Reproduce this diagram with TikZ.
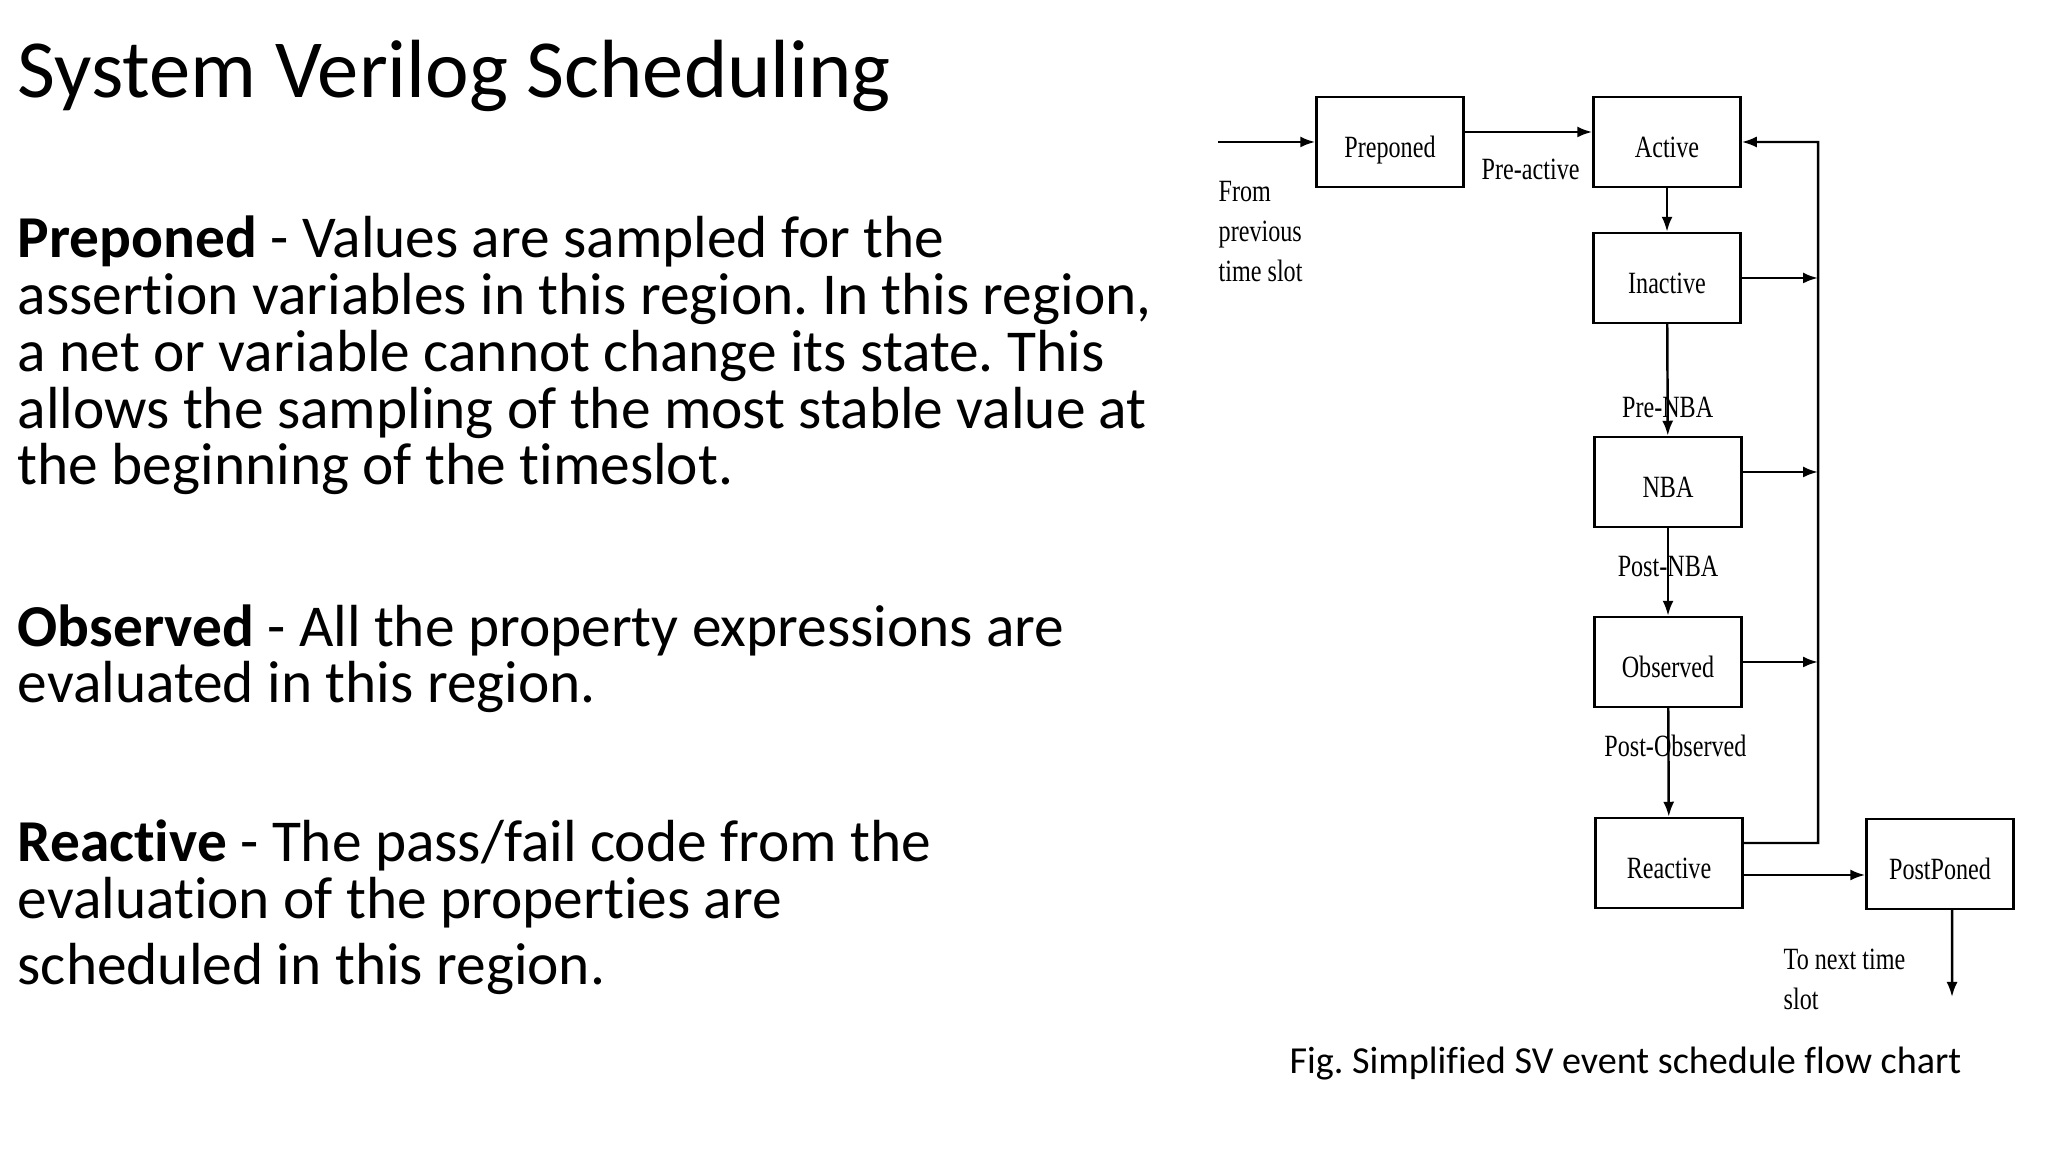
\documentclass[tikz,border=0pt]{standalone}
\usepackage{fontspec}
\setmainfont{Carlito}[Ligatures=NoCommon]
\newfontfamily\figfont[FakeStretch=0.78]{Liberation Serif}
\usetikzlibrary{arrows.meta,positioning}
\frenchspacing

\tikzset{
  region/.style={draw, line width=0.7pt, minimum width=14.7mm, minimum height=9mm,
    inner sep=0pt, text height=8.6pt, text depth=0pt,
    font=\figfont\fontsize{8.8}{11.4}\selectfont},
  flow/.style={line width=0.7pt, -{Latex[length=1.5mm,width=1.1mm]}},
  lbl/.style={inner sep=0pt, font=\figfont\fontsize{8.8}{11.4}\selectfont},
  para/.style={anchor=base west, align=left, inner sep=0pt,
    font=\fontsize{16.9}{16.15}\selectfont}
}

\begin{document}
\begin{tikzpicture}[x=0.1mm, y=-0.1mm]
\useasboundingbox (0,0) rectangle (2048,1152);

% slide text (multi-line nodes sit on their last baseline)
\node[anchor=base west, inner sep=0pt, font=\fontsize{23.5}{28}\selectfont] (title) at (17,98) {System Verilog Scheduling};
\node[para] (txtpre) at (17,485) {\textbf{Preponed} - Values are sampled for the\\
  assertion variables in this region. In this region,\\
  a net or variable cannot change its state. This\\
  allows the sampling of the most stable value at\\
  the beginning of the timeslot.};
\node[para] (txtobs) at (17,703) {\textbf{Observed} - All the property expressions are\\
  evaluated in this region.};
\node[para] (txtreact) at (17,985) {\textbf{Reactive} - The pass/fail code from the\\
  evaluation of the properties are\\[2.8pt]
  scheduled in this region.};

% flow chart
\node[region] (prep) at (1390,142) {Preponed};
\node[region] (act) at (1667,142) {Active};
\node[region] (inact) at (1667,278) {Inactive};
\node[region] (nba) at (1668,482) {NBA};
\node[region] (obs) at (1668,662) {Observed};
\node[region] (react) at (1669,863) {Reactive};
\node[region] (post) at (1940,864) {PostPoned};

\coordinate (from) at (1218,142);
\coordinate (bus) at (1818,843);
\coordinate (next) at (1952,997);

\draw[flow] (from) -- (prep.west);
\draw[flow] ([yshift=1mm]prep.east) -- ([yshift=1mm]act.west);
\draw[flow] (act) -- (inact);
\draw[flow] (inact) -- node[lbl, pos=0.75] {Pre-NBA} (nba);
\draw[flow] (nba) -- node[lbl, pos=0.44] {Post-NBA} (obs);
\draw[flow] (obs) -- node[lbl, pos=0.35, xshift=0.7mm] {Post-Observed} (react);
\draw[flow] (inact.east) -- (inact.east -| bus);
\draw[flow] ([yshift=1mm]nba.east) -- ([yshift=1mm]nba.east -| bus);
\draw[flow] (obs.east) -- (obs.east -| bus);
\draw[flow] ([yshift=2mm]react.east) -- (bus) |- (act.east);
\draw[flow] ([yshift=-1.2mm]react.east) -- ([yshift=-1.2mm]react.east -| post.west);
\draw[flow] ([xshift=1.2mm]post.south) -- (next);

\node[lbl, anchor=base west, align=left] (fromtxt) at (1218,282) {From\\previous\\time slot};
\node[lbl, anchor=base west] (preact) at (1481,180) {Pre-active};
\node[lbl, anchor=base west, align=left] (nexttxt) at (1783,1010) {To next time\\slot};

\node[anchor=base west, inner sep=0pt, font=\fontsize{10.86}{13}\selectfont] (caption) at (1289,1073) {Fig. Simplified SV event schedule flow chart};
\end{tikzpicture}
\end{document}
